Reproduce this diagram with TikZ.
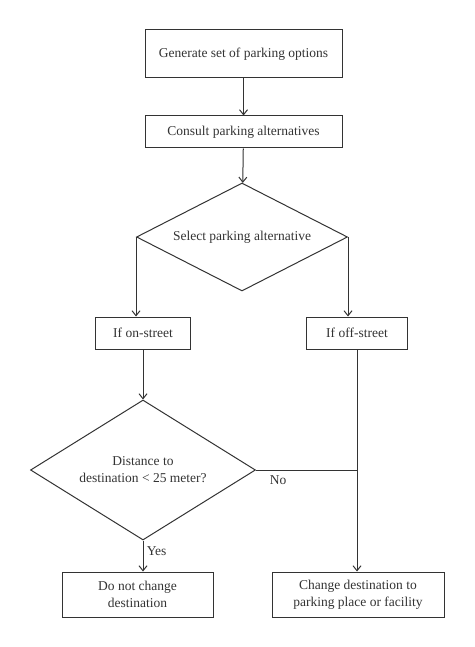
\documentclass[tikz,border=0pt]{standalone}
\usepackage{fontspec}
\setmainfont{Liberation Serif}
\usetikzlibrary{arrows.meta, shapes.geometric, positioning}

\begin{document}
\begin{tikzpicture}[x=1pt,y=-1pt,>={Straight Barb[length=5pt,width=8pt]},
  color=black!80,line width=1pt,font=\fontsize{13.5}{17}\selectfont,
  box/.style={draw,rectangle,inner sep=0pt,align=center},
  decision/.style={draw,diamond,inner sep=0pt,align=center,shape aspect=2}]
\useasboundingbox (0,0) rectangle (474,647);
%Knoten
\node (gen) [box, minimum width=197pt, minimum height=48pt] at (243.5,54) {Generate set of parking options};
\node (con) [box, minimum width=197pt, minimum height=32pt] at (243.5,132) {Consult parking alternatives};
\node (sel) [decision, minimum width=211pt, minimum height=108pt] at (242,237) {Select parking alternative};
\node (on) [box, minimum width=95pt, minimum height=32pt] at (143,333) {If on-street};
\node (off) [box, minimum width=101pt, minimum height=32pt] at (357,333) {If off-street};
\node (dist) [decision, shape aspect=1.6, minimum width=225pt, minimum height=140pt] at (143,470) {Distance to\\destination < 25 meter?};
\node (keep) [box, minimum width=151pt, minimum height=45pt] at (137.5,594.5) {Do not change\\destination};
\node (chg) [box, minimum width=172pt, minimum height=45pt] at (358,594.5) {Change destination to\\parking place or facility};
\coordinate (join) at (off.south |- dist.east);

%Verbindungen
\path[->]
(gen) edge (con)
(con) edge (sel)
(sel.west) edge (sel.west |- on.north)
(sel.east) edge (sel.east |- off.north)
(on) edge (dist)
(dist.south) edge node [right, pos=0.35] {Yes} (dist.south |- keep.north)
(off.south) edge (off.south |- chg.north)
;
\draw (dist.east) -- node [below, pos=0.22, yshift=-2pt] {No} (join);
\end{tikzpicture}
\end{document}
